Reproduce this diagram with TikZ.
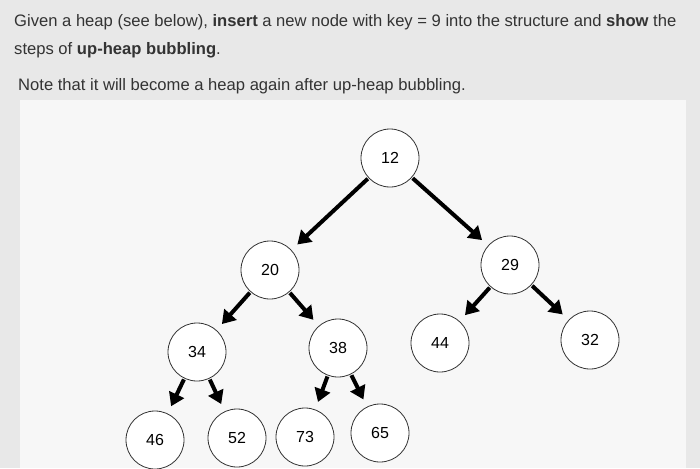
\documentclass[tikz,border=0pt]{standalone}
\usepackage{fontspec}
\setmainfont{Liberation Sans}
\usetikzlibrary{arrows.meta}
\begin{document}
\begin{tikzpicture}[x=1pt,y=-1pt,
  hn/.style={circle,draw=black!80,line width=0.8pt,fill=white,minimum size=58pt,inner sep=0pt,font=\fontsize{16}{19}\selectfont},
  ar/.style={line width=4pt,-{Triangle[length=13pt,width=16pt]},shorten <=1pt,shorten >=8pt},
  txt/.style={anchor=west,inner sep=0pt,font=\fontsize{16.6}{19}\selectfont,text=black!80}]
\useasboundingbox (0,0) rectangle (700,468);
\fill[black!9] (0,0) rectangle (700,468);
\fill[black!3] (20,100) rectangle (686,468);
\node[txt] (l1) at (14,22) {Given a heap (see below), \textbf{insert} a new node with key = 9 into the structure and \textbf{show} the};
\node[txt] (l2) at (14,50) {steps of \textbf{up-heap bubbling}.};
\node[txt] (l3) at (18,86) {Note that it will become a heap again after up-heap bubbling.};
\node[hn] (n12) at (390,158) {12};
\node[hn] (n20) at (270,270) {20};
\node[hn] (n29) at (510,265) {29};
\node[hn] (n34) at (197,352) {34};
\node[hn] (n38) at (338,348) {38};
\node[hn] (n44) at (440,343) {44};
\node[hn] (n32) at (590,340) {32};
\node[hn] (n46) at (155,440) {46};
\node[hn] (n52) at (237,438) {52};
\node[hn] (n73) at (305,437) {73};
\node[hn] (n65) at (380,433) {65};
\foreach \a/\b in {12/20,12/29,20/34,20/38,29/44,29/32,34/46,34/52,38/73,38/65}
  \draw[ar] (n\a) -- (n\b);
\end{tikzpicture}
\end{document}
